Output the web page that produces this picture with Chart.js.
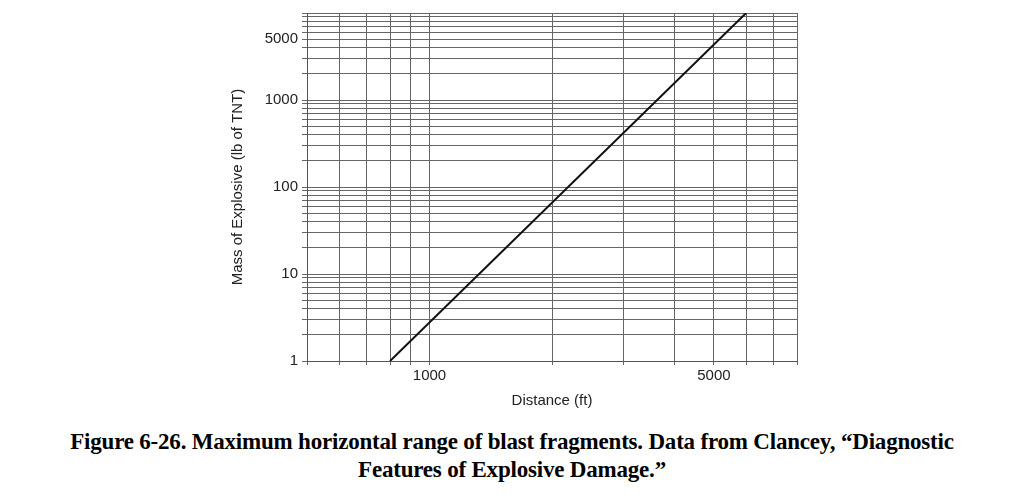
<!DOCTYPE html>
<html><head><meta charset="utf-8">
<script src="https://cdn.jsdelivr.net/npm/chart.js@4/dist/chart.umd.min.js"></script>
<style>
body{margin:0;background:#fff;width:1024px;height:501px;overflow:hidden}
#wrap{position:absolute;left:0;top:0;width:1024px;height:420px}
#cap{position:absolute;left:0;top:428px;width:1024px;text-align:center;font-family:"Liberation Serif",serif;font-weight:bold;font-size:23px;line-height:28px;color:#000;white-space:nowrap;letter-spacing:-0.2px}
</style></head><body>
<div id="wrap"><canvas id="c"></canvas></div>
<div id="cap">Figure 6-26. Maximum horizontal range of blast fragments. Data from Clancey, “Diagnostic<br>Features of Explosive Damage.”</div>
<script>
const distance = [800, 6000];
const mass = [1, 10000];
const xLabels = [1000, 5000];
const yLabels = [1, 10, 100, 1000, 5000];
const xGrid = [500,600,700,800,900,1000,2000,3000,4000,5000,6000,7000,8000];
const yGrid = [];
for (let d of [1,10,100,1000]) for (let m=1;m<=9;m++) yGrid.push(d*m);
yGrid.push(10000);
new Chart(document.getElementById('c'), {
  type: 'line',
  data: { datasets: [{ data: distance.map((x,i)=>({x, y: mass[i]})), borderColor:'#111', borderWidth:2, pointRadius:0, fill:false }] },
  options: {
    responsive:true, maintainAspectRatio:false, animation:false,
    layout:{padding:{left:225,right:227,top:-3,bottom:6}},
    plugins:{legend:{display:false},tooltip:{enabled:false}},
    scales:{
      x:{type:'logarithmic',min:500,max:8000,
        afterBuildTicks:s=>{s.ticks=xGrid.map(v=>({value:v}));},
        afterFit:s=>{s.height=53;},
        ticks:{autoSkip:false,maxRotation:0,color:'#222',font:{family:'Liberation Sans',size:15},padding:2,
          callback:v=>xLabels.includes(v)?String(v):''},
        grid:{color:'#666',lineWidth:1,tickLength:4},
        border:{color:'#555'},
        title:{display:true,text:'Distance (ft)',color:'#222',font:{family:'Liberation Sans',size:15},padding:{top:2}}
      },
      y:{type:'logarithmic',min:1,max:10000,
        afterBuildTicks:s=>{s.ticks=yGrid.map(v=>({value:v}));},
        afterFit:s=>{s.width=82;},
        ticks:{autoSkip:false,color:'#222',font:{family:'Liberation Sans',size:15},padding:4,
          callback:v=>yLabels.includes(v)?String(v):''},
        grid:{color:'#666',lineWidth:1,tickLength:5},
        border:{color:'#555'},
        title:{display:true,text:'Mass of Explosive (lb of TNT)',color:'#222',font:{family:'Liberation Sans',size:15}}
      }
    }
  }
});
</script></body></html>
